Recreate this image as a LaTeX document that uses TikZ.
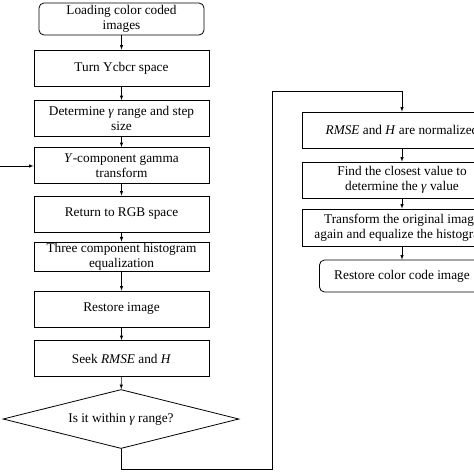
\documentclass[tikz,border=0pt]{standalone}
\usepackage{fontspec}
\setmainfont{Liberation Serif}
\usetikzlibrary{shapes.geometric}
\tikzset{
  stepbox/.style={draw,thick,minimum width=175pt,minimum height=36pt,align=center,inner sep=1pt,font=\fontsize{13.3}{15}\selectfont},
  endbox/.style={stepbox,rounded corners=5pt,minimum width=165pt,minimum height=32pt},
  testbox/.style={draw,thick,diamond,aspect=4,minimum width=236pt,minimum height=59pt,inner sep=0pt,font=\fontsize{13.3}{15}\selectfont},
  flow/.style={-latex,semithick}
}

\begin{document}
\begin{tikzpicture}[x=1pt,y=-1pt]
        \useasboundingbox (0,0) rectangle (474,474);
        \clip (0,0) rectangle (474,474);
        % left column
        \node[endbox] (load) at (121.5,19) {Loading color coded\\images};
        \node[stepbox] (ycbcr) at (121.5,68) {Turn Ycbcr space};
        \node[stepbox] (range) at (121.5,118.5) {Determine \textit{γ} range and step\\size};
        \node[stepbox] (gamma) at (121.5,165.5) {\textit{Y}-component gamma\\transform};
        \node[stepbox] (rgb) at (121.5,214) {Return to RGB space};
        \node[stepbox,minimum height=27pt] (hist) at (121.5,256.5) {Three component histogram\\equalization};
        \node[stepbox] (restore) at (121.5,309) {Restore image};
        \node[stepbox] (seek) at (121.5,358.5) {Seek \textit{RMSE} and \textit{H}};
        \node[testbox] (test) at (121,419) {Is it within \textit{γ} range?};
        % right column
        \node[stepbox,minimum width=200pt] (norm) at (402,130) {\textit{RMSE} and \textit{H} are normalized};
        \node[stepbox,minimum width=200pt] (close) at (402,180) {Find the closest value to\\determine the \textit{γ} value};
        \node[stepbox,minimum width=200pt,minimum height=37pt] (again) at (402,227.5) {Transform the original image\\again and equalize the histogram};
        \node[endbox] (color) at (402,276) {Restore color code image};
        % connectors
        \coordinate (back) at (-5,166);
        \coordinate (down) at (121,469);
        \coordinate (up) at (272,91);
        \draw[flow] (load) -- (ycbcr);
        \draw[flow] (ycbcr) -- (range);
        \draw[flow] (range) -- (gamma);
        \draw[flow] (gamma) -- (rgb);
        \draw[flow] (rgb) -- (hist);
        \draw[flow] (hist) -- (restore);
        \draw[flow] (restore) -- (seek);
        \draw[flow] (seek) -- (test);
        \draw[flow] (back) -- (gamma.west |- back);
        \draw[flow] (test.south) -- (down) -| (up) -| (norm.north);
        \draw[flow] (norm) -- (close);
        \draw[flow] (close) -- (again);
        \draw[flow] (again) -- (color);
\end{tikzpicture}
\end{document}
